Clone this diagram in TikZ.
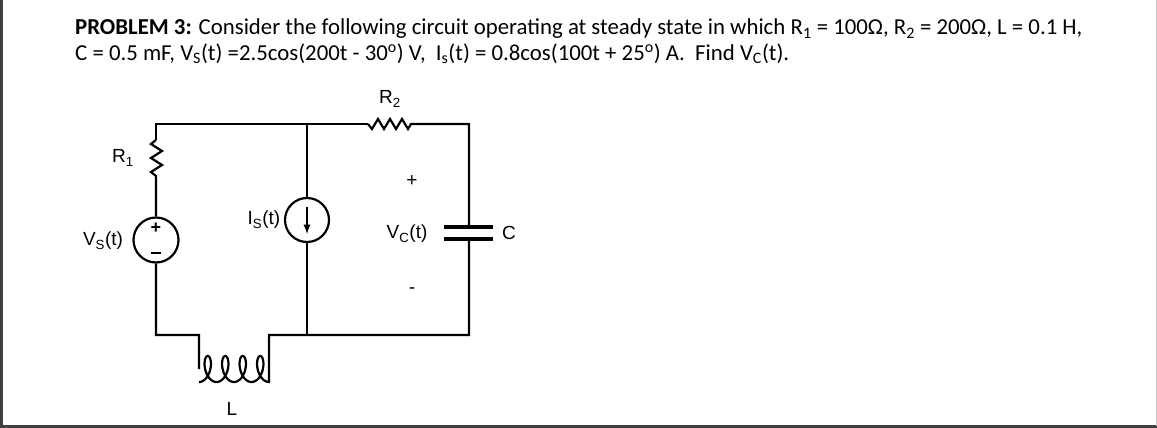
\documentclass[tikz,border=0pt]{standalone}
\usepackage{fontspec}
\setmainfont{Carlito}
\newfontfamily\arialf{Liberation Sans}
\begin{document}
\begin{tikzpicture}[x=1pt,y=-1pt,
  wire/.style={line width=2.2pt,line join=miter},
  lbl/.style={font=\arialf\fontsize{19}{19}\selectfont,inner sep=0pt},
  ttl/.style={font=\fontsize{22.8}{24}\selectfont,inner sep=0pt,anchor=base west}]
\useasboundingbox (0,0) rectangle (1157,428);
\fill[white] (0,0) rectangle (1157,428);
\draw[line width=3pt,black!75] (1.5,0) -- (1.5,426.5) -- (1157,426.5);
\draw[line width=1pt,black!20] (1156.5,0) -- (1156.5,426);
% title
\node[ttl] (t1) at (75,35) {\textbf{PROBLEM 3:} Consider the following circuit operating at steady state in which R\textsubscript{1} = 100Ω, R\textsubscript{2} = 200Ω, L = 0.1 H,};
\node[ttl] (t2) at (75,60) {C = 0.5 mF, V\textsubscript{S}(t) =2.5cos(200t - 30\textsuperscript{o}) V,\ \ I\textsubscript{s}(t) = 0.8cos(100t + 25\textsuperscript{o}) A.\ \ Find V\textsubscript{C}(t).};
% coordinates
\coordinate (tl) at (156,124);
\coordinate (tm) at (307,124);
\coordinate (tr) at (469,124);
\coordinate (bl) at (156,335);
\coordinate (bm) at (307,335);
\coordinate (br) at (469,335);
\node[draw,circle,line width=2.2pt,minimum size=45pt,inner sep=0pt] (vs) at (156,240) {};
\node[draw,circle,line width=2.2pt,minimum size=44pt,inner sep=0pt] (is) at (307,220) {};
% wires
\draw[wire] (156,140) -- (tl) -- (tm) -- (368,124);
\draw[wire] (156,140) -- (151,144) -- (162,151) -- (151,158) -- (162,165) -- (151,172) -- (156,176) -- (vs.north);
\draw[wire] (368,124) -- (372,129) -- (378,119) -- (384,129) -- (390,119) -- (396,129) -- (402,119) -- (408,129) -- (411,124) -- (tr) -- (469,227);
\draw[wire] (tm) -- (is.north);
\draw[wire] (is.south) -- (bm);
\draw[wire] (vs.south) -- (bl) -- (199,335) -- (199,369)
  plot[domain=0:25.1327,samples=240,variable=\t] ({199+2.785*\t+7*sin(\t r)},{369+13*cos(\t r)})
  -- (269,369) -- (269,335) -- (bm) -- (br) -- (469,239);
\draw[line width=4pt] (444,227) -- (493,227) (444,239) -- (493,239);
% source symbols
\node[lbl,font=\arialf\fontsize{18}{18}\selectfont\bfseries] (pl) at (156,228) {+};
\draw[line width=2.2pt] (151,253) -- (161,253);
\draw[line width=2.2pt,-latex] (307,207) -- (307,234);
% labels
\node[lbl] (r1) at (123,158) {R\textsubscript{1}};
\node[lbl] (r2) at (390,99) {R\textsubscript{2}};
\node[lbl] (vsl) at (103,241) {V\textsubscript{S}(t)};
\node[lbl] (isl) at (264,220) {I\textsubscript{S}(t)};
\node[lbl] (vcl) at (407,234) {V\textsubscript{C}(t)};
\node[lbl] (cl) at (509,233) {C};
\node[lbl] (p) at (412,181) {+};
\node[lbl] (m) at (412,291) {-};
\node[lbl] (ll) at (232,409) {L};
\end{tikzpicture}
\end{document}
